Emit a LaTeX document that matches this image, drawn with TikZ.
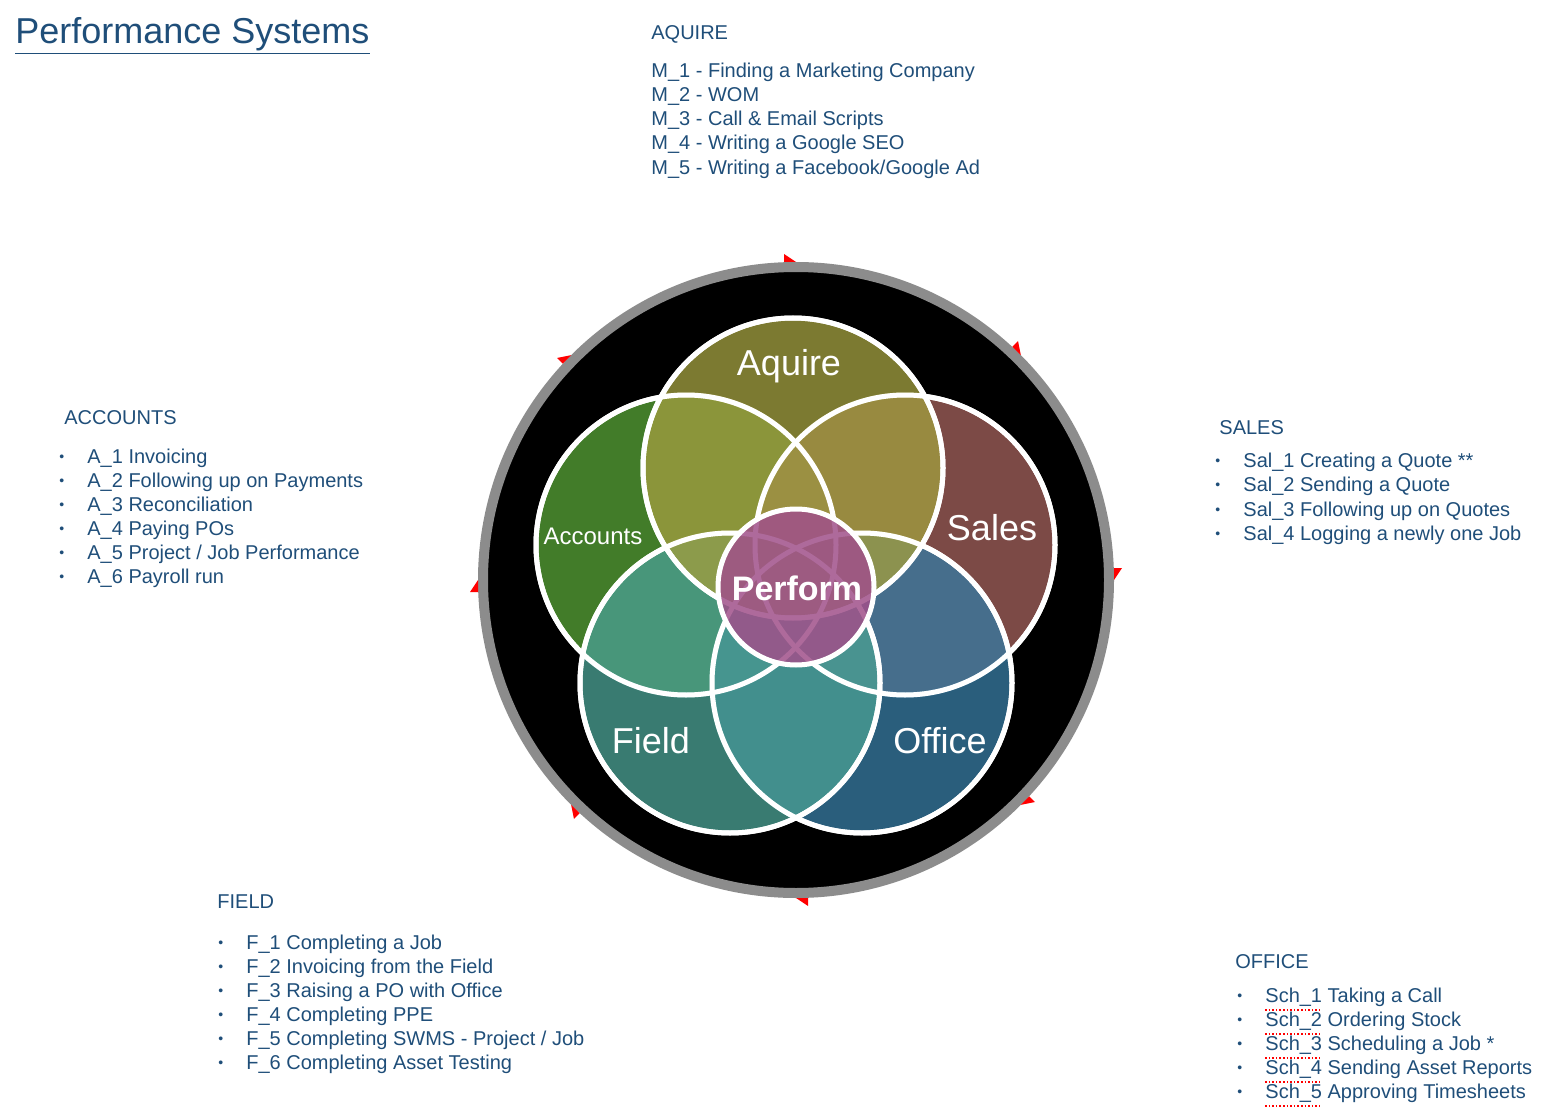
\documentclass[tikz,border=0pt]{standalone}
\usepackage{fontspec}
\setmainfont{Liberation Sans}
\begin{document}
\begin{tikzpicture}[x=0.5pt,y=-0.5pt,
 txt/.style={anchor=west,inner sep=0pt,text=blue!40!black!70!cyan!60!black,font=\fontsize{10}{12}\selectfont},
 hd/.style={txt},
 bul/.style={txt,font=\fontsize{7}{8}\selectfont},
 venn/.style={circle,draw=white,line width=2.5pt,minimum size=300*0.5pt,inner sep=0pt,fill opacity=0.78},
 lab/.style={text=white,font=\fontsize{18}{20}\selectfont,inner sep=0pt},
 rt/.style={fill=red,draw=none}]
\definecolor{tc}{HTML}{1F4E79}
\tikzset{txt/.append style={text=tc}}
\useasboundingbox (0,0) rectangle (1548,1118);
\node[txt,font=\fontsize{18}{20}\selectfont] (title) at (15,36) {\underline{Performance Systems}};
% ring
\node[circle,fill=black,draw=gray!90,line width=5pt,minimum size=626*0.5pt,inner sep=0pt] (ring) at (796,580) {};
\foreach \a in {0,45,...,315}{
 \fill[red] ([shift={(\a:318)}]796,580) -- ++(\a-90:12) -- ++(\a:8) -- cycle;
}
% circles
\node[venn,fill={rgb,255:red,85;green,160;blue,53}] (acc) at (686,545) {};
\node[venn,fill={rgb,255:red,160;green,96;blue,90}] (sal) at (905,545) {};
\node[venn,fill={rgb,255:red,55;green,121;blue,160}] (off) at (862,683) {};
\node[venn,fill={rgb,255:red,74;green,158;blue,146}] (fld) at (730,683) {};
\node[venn,fill={rgb,255:red,160;green,157;blue,63}] (aq) at (793,468) {};
\foreach \n in {acc,sal,off,fld,aq}{\draw[white,line width=2.5pt] (\n) circle (150);}
\node[circle,draw=white,line width=2.5pt,fill={rgb,255:red,160;green,80;blue,138},fill opacity=0.85,minimum size=156*0.5pt,inner sep=0pt] (perf) at (796,587) {};
\node[lab] (laq) at (789,366) {Aquire};
\node[lab] (lsal) at (992,528) {Sales};
\node[lab] (loff) at (940,741) {Office};
\node[lab] (lfld) at (651,741) {Field};
\node[lab,font=\fontsize{12}{14}\selectfont] (lacc) at (593,536) {Accounts};
\node[lab,font=\bfseries\fontsize{17}{20}\selectfont] (lperf) at (797,588) {Perform};
% AQUIRE
\node[hd] (hq) at (651,34) {AQUIRE};
\foreach \t [count=\i] in {M\_1 - Finding a Marketing Company,M\_2 - WOM,M\_3 - Call \& Email Scripts,M\_4 - Writing a Google SEO,M\_5 - Writing a Facebook/Google Ad}
 \node[txt] (q\i) at (651,48+24.2*\i) {\t};
% ACCOUNTS
\node[hd] (ha) at (64,418) {ACCOUNTS};
\foreach \t [count=\i] in {A\_1 Invoicing,A\_2 Following up on Payments,A\_3 Reconciliation,A\_4 Paying POs,A\_5 Project / Job Performance,A\_6 Payroll run}{
 \node[bul] (ab\i) at (59,434+24*\i) {\textbullet};
 \node[txt] (a\i) at (87,434+24*\i) {\t};}
% SALES
\node[hd] (hs) at (1219,428) {SALES};
\foreach \t [count=\i] in {Sal\_1 Creating a Quote **,Sal\_2 Sending a Quote,Sal\_3 Following up on Quotes,Sal\_4 Logging a newly one Job}{
 \node[bul] (sb\i) at (1215,438+24.3*\i) {\textbullet};
 \node[txt] (s\i) at (1243,438+24.3*\i) {\t};}
% FIELD
\node[hd] (hf) at (217,902) {FIELD};
\foreach \t [count=\i] in {F\_1 Completing a Job,F\_2 Invoicing from the Field,F\_3 Raising a PO with Office,F\_4 Completing PPE,F\_5 Completing SWMS - Project / Job,F\_6 Completing Asset Testing}{
 \node[bul] (fb\i) at (218,920+24*\i) {\textbullet};
 \node[txt] (f\i) at (246,920+24*\i) {\t};}
% OFFICE
\node[hd] (ho) at (1235,962) {OFFICE};
\foreach \t [count=\i] in {Sch\_1 Taking a Call,Sch\_2 Ordering Stock,Sch\_3 Scheduling a Job *,Sch\_4 Sending Asset Reports,Sch\_5 Approving Timesheets}{
 \node[bul] (ob\i) at (1237,973+24*\i) {\textbullet};
 \node[txt] (o\i) at (1265,973+24*\i) {\t};
 \draw[red,densely dotted,line width=0.8pt] (1265,986+24*\i) -- (1320,986+24*\i);}
\end{tikzpicture}
\end{document}
